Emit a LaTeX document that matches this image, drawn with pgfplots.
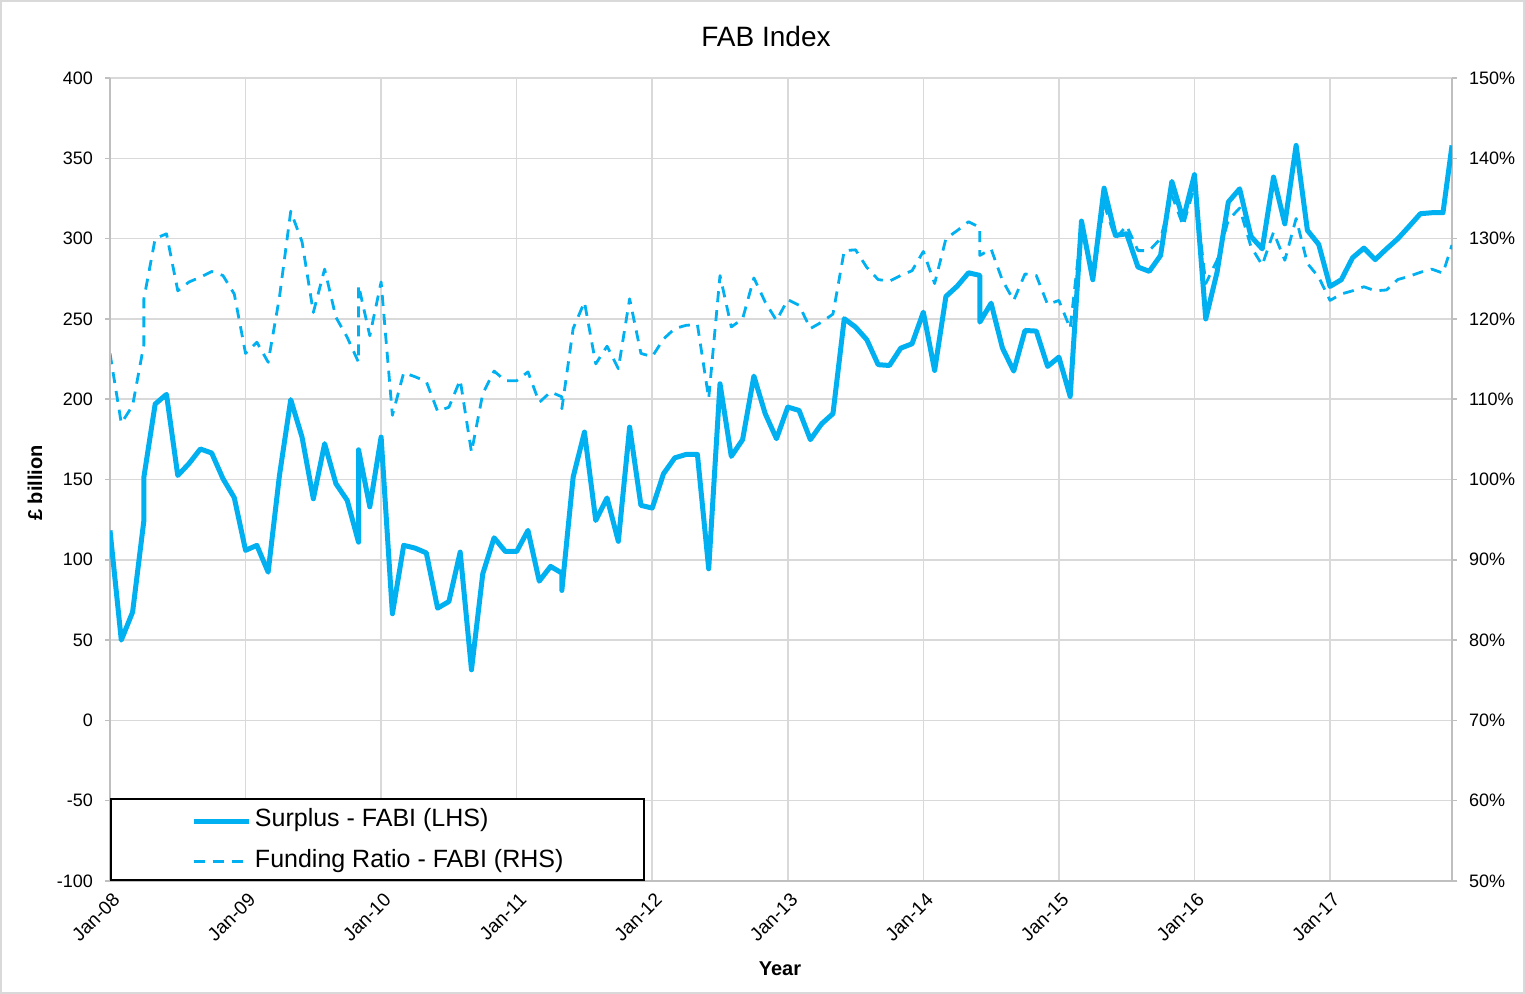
\documentclass[border=0pt]{standalone}
\usepackage{fontspec}
\setmainfont{Liberation Sans}
\usepackage{pgfplots}
\pgfplotsset{compat=1.18}
\usepackage{pgfplotstable}

\definecolor{fabblue}{HTML}{00B0F0}
\definecolor{gridgray}{HTML}{D9D9D9}
\definecolor{axisgray}{HTML}{BFBFBF}

% Surplus (GBP bn), month index from Jan-08
\pgfplotstableread{
m     surplus
0     118.3
1     50
2     67.4
3     124.5
3     151.5
4     197
5     203
6     152.5
7     160
8     169
9     166.5
10    150.5
11    138.7
12    105.9
13    109
14    92.3
15    152.5
16    199.7
17    176.4
18    138
19    172.3
20    147.4
21    137
22    111
22    168.5
23    133
24    176.4
25    66.4
26    109
27    107.3
28    104.3
29    69.9
30    74
31    104.8
32    31.5
33    91.3
34    113.7
35    105.2
36    105.2
37    118.3
38    86.7
39    95.9
40    91.7
40    80.9
41    151.5
42    179.5
43    124.5
44    138.5
45    111.5
46    182.6
47    133.9
48    132.2
49    153.6
50    163.5
51    165.6
52    165.6
53    94.4
54    209.6
55    164.4
56    174.8
57    214.4
58    191
59    175.4
60    195.1
61    193
62    174.8
63    184.7
64    191
65    250.1
66    244.9
67    237
68    221.5
69    221
70    231.8
71    234.5
72    254.2
73    217.9
74    264
75    270.4
76    278.7
77    277.1
77    248
78    259.8
79    231.9
80    217.5
81    242.8
82    242.4
83    220.4
84    226.2
85    201.7
86    310.9
87    274.4
88    331.4
89    302
90    303
91    282.3
92    279.6
93    289.5
94    335.6
95    312
96    339.8
97    250
98    279
99    322.8
100   331
101   301.4
102   293.6
103   338.3
104   309.2
105   358
106   305.1
107   296.4
108   270.2
109   274.4
110   288.1
111   294.1
112   286.9
113   293.6
114   299.9
115   307.6
116   315.5
117   316.1
118   316.1
118.8 358
}\surplustable

% Funding ratio (%), month index from Jan-08
\pgfplotstableread{
m     ratio
0     115.7
1     107
2     109.2
3     116.8
3     122.5
4     130
5     130.6
6     123.5
7     124.6
8     125.2
9     125.9
10    125.4
11    123.1
12    115.7
13    117.1
14    114.6
15    122.7
16    133.4
17    129.6
18    120.8
19    126.2
20    120.2
21    117.7
22    114.6
22    124.2
23    117.9
24    124.6
25    108
26    113.3
27    112.8
28    112.2
29    108.5
30    109
31    112.4
32    103.4
33    110.7
34    113.5
35    112.3
36    112.3
37    113.4
38    109.6
39    110.9
40    110.3
40    108.8
41    118.8
42    122.1
43    114.4
44    116.6
45    113.8
46    122.5
47    115.7
48    115.3
49    117.5
50    118.8
51    119.2
52    119.3
53    110.1
54    125.4
55    119
56    120
57    125.1
58    122.1
59    119.8
60    122.4
61    121.7
62    118.8
63    119.6
64    120.6
65    128.5
66    128.6
67    126.4
68    124.9
69    124.7
70    125.4
71    126
72    128.4
73    124.4
74    130
75    131
76    132.1
77    131.4
77    127.9
78    128.7
79    124.8
80    122.3
81    125.6
82    125.4
83    121.8
84    122.3
85    118.8
86    131.4
87    125
88    134.3
89    130
90    131.6
91    128.5
92    128.5
93    130
94    135.4
95    131.6
96    136.5
97    124.4
98    127.3
99    132.3
100   133.8
101   129
102   126.7
103   130.8
104   127.3
105   132.5
106   126.9
107   125.2
108   122.3
109   123.1
110   123.5
111   124
112   123.5
113   123.6
114   124.9
115   125.3
116   125.8
117   126.2
118   125.7
118.8 129.2
}\ratiotable

\pgfplotsset{
  fabaxis/.style={
    scale only axis,
    width=671bp, height=401.5bp,
    at={(55bp,56.5bp)}, anchor=south west,
    xmin=0, xmax=118.8,
    xtick={0,12,24,36,48,60,72,84,96,108},
    axis x line*=bottom,
    x axis line style={axisgray, line width=0.75bp},
    y axis line style={axisgray, line width=0.75bp},
    xtick style={draw=none},
    ytick style={axisgray, line width=0.75bp},
    tick align=outside,
    major tick length=2.5bp,
    tick label style={font=\fontsize{9bp}{11bp}\selectfont, text=black},
  },
  ratiostyle/.style={fabblue, line width=1.4bp, dash pattern=on 5.5bp off 4bp},
}

\begin{document}
\begin{tikzpicture}
\useasboundingbox (0,0) rectangle (762.5bp,497bp);
\draw[gridgray, line width=1bp] (0.5bp,0.5bp) rectangle (762bp,496.5bp);

% right-hand axis: funding ratio, with the shared grid
\begin{axis}[fabaxis,
  ymin=50, ymax=150,
  ytick={50,60,70,80,90,100,110,120,130,140,150},
  yticklabels={50\%,60\%,70\%,80\%,90\%,100\%,110\%,120\%,130\%,140\%,150\%},
  axis y line*=right,
  xticklabels={},
  grid=major,
  major grid style={gridgray, line width=0.75bp},
  yticklabel style={anchor=west, xshift=2.5bp},
]
\addplot[ratiostyle, line join=round]
  table[x=m, y=ratio]{\ratiotable};
\end{axis}

% left-hand axis: surplus
\begin{axis}[fabaxis,
  ymin=-100, ymax=400,
  ytick={-100,-50,0,50,100,150,200,250,300,350,400},
  yticklabels={-100,-50,0,50,100,150,200,250,300,350,400},
  axis y line*=left,
  xticklabels={Jan-08,Jan-09,Jan-10,Jan-11,Jan-12,Jan-13,Jan-14,Jan-15,Jan-16,Jan-17},
  xticklabel style={rotate=45, anchor=east, xshift=2bp, yshift=-6bp,
    font=\fontsize{9.5bp}{11bp}\selectfont},
  yticklabel style={anchor=east, xshift=-2.5bp},
  legend style={at={(0,0)}, anchor=south west, draw=black, line width=1bp,
    fill=white, inner xsep=38.5bp, inner ysep=3bp, row sep=5.5bp,
    font=\fontsize{12.5bp}{15bp}\selectfont},
  legend cell align=left,
  legend image code/.code={\path (0bp,-1bp); \draw[#1] (1.5bp,-1bp) -- (29bp,-1bp);},
]
\addplot[fabblue, line width=2.5bp, line join=round]
  table[x=m, y=surplus]{\surplustable};
\addlegendentry{Surplus - FABI (LHS)}
\addlegendimage{ratiostyle}
\addlegendentry{Funding Ratio - FABI (RHS)}
\end{axis}

\node[font=\fontsize{14bp}{17bp}\selectfont] at (383bp,478.5bp) {FAB Index};
\node[font=\bfseries\fontsize{10bp}{12bp}\selectfont, rotate=90] at (17.5bp,255.5bp) {£ billion};
\node[font=\bfseries\fontsize{10bp}{12bp}\selectfont] at (390bp,12.5bp) {Year};
\end{tikzpicture}
\end{document}
